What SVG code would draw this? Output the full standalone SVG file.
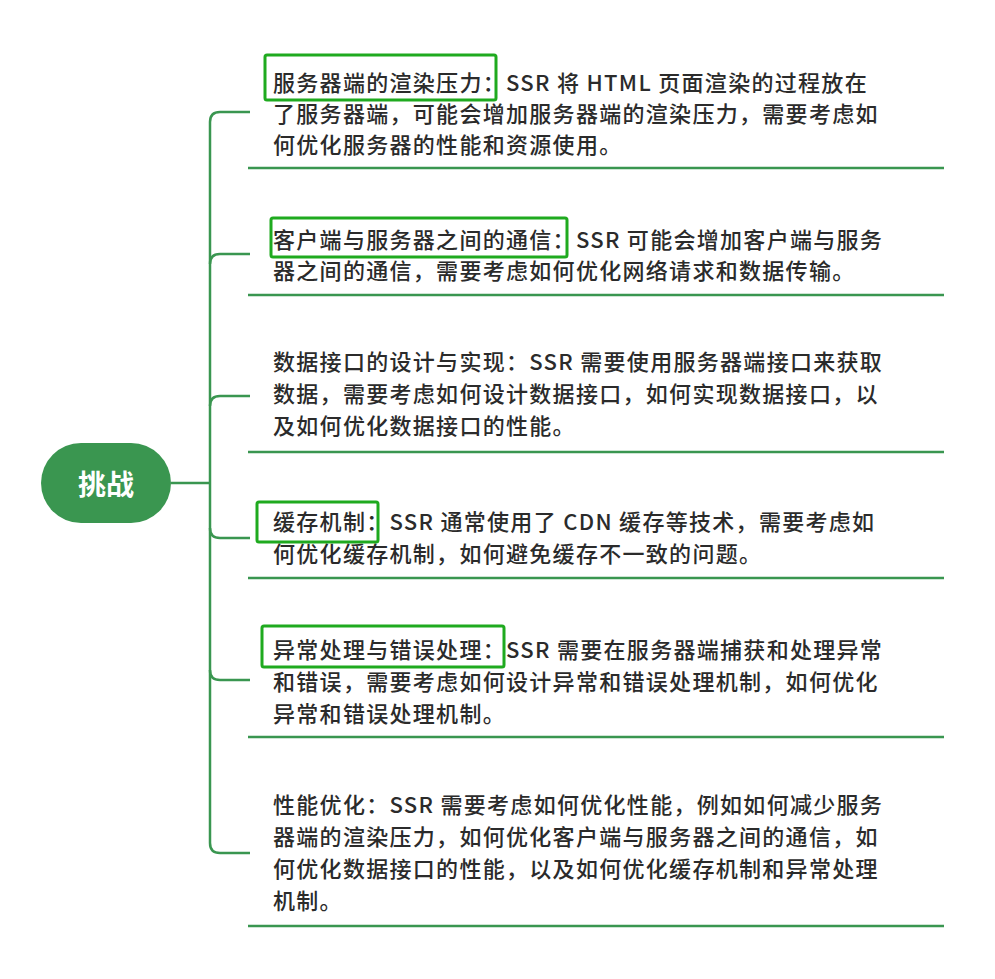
<svg xmlns="http://www.w3.org/2000/svg" width="995" height="979" viewBox="0 0 995 979">
<style>
.t{font-family:"Noto Sans CJK SC","Liberation Sans",sans-serif;font-size:22px;letter-spacing:1.3px;font-weight:500;fill:#2b2b2b}
.c{fill:none;stroke:#3a9650;stroke-width:2.5}
.u{stroke:#3a9650;stroke-width:2.5}
.h{fill:none;stroke:#1faa1f;stroke-width:3}
</style>
<rect width="995" height="979" fill="#fff"/>
<g id="connectors">
<path class="c" d="M171 483H210"/>
<path class="c" d="M250 112H220Q210 112 210 122V843Q210 853 220 853H250"/>
<path class="c" d="M210 264Q210 254 220 254H250"/>
<path class="c" d="M210 406Q210 396 220 396H250"/>
<path class="c" d="M210 528Q210 538 220 538H250"/>
<path class="c" d="M210 670Q210 680 220 680H250"/>
</g>
<g id="root">
<rect x="41" y="443" width="130" height="80" rx="40" fill="#3a9650"/>
<text x="106" y="495" text-anchor="middle" style="font-family:'Noto Sans CJK SC',sans-serif;font-size:28px;font-weight:bold;fill:#fff">挑战</text>
</g>
<g id="n1">
<text class="t"><tspan x="273" y="91">服务器端的渲染压力：SSR 将 HTML 页面渲染的过程放在</tspan><tspan x="273" y="122">了服务器端，可能会增加服务器端的渲染压力，需要考虑如</tspan><tspan x="273" y="153">何优化服务器的性能和资源使用。</tspan></text>
<line class="u" x1="248" y1="168" x2="944" y2="168"/>
<rect class="h" x="265" y="55" width="231" height="45" rx="2"/>
</g>
<g id="n2">
<text class="t"><tspan x="273" y="248">客户端与服务器之间的通信：SSR 可能会增加客户端与服务</tspan><tspan x="273" y="279">器之间的通信，需要考虑如何优化网络请求和数据传输。</tspan></text>
<line class="u" x1="248" y1="295" x2="944" y2="295"/>
<rect class="h" x="271" y="218" width="296" height="39" rx="2"/>
</g>
<g id="n3">
<text class="t"><tspan x="273" y="370">数据接口的设计与实现：SSR 需要使用服务器端接口来获取</tspan><tspan x="273" y="402">数据，需要考虑如何设计数据接口，如何实现数据接口，以</tspan><tspan x="273" y="434">及如何优化数据接口的性能。</tspan></text>
<line class="u" x1="248" y1="452" x2="944" y2="452"/>
</g>
<g id="n4">
<text class="t"><tspan x="273" y="530">缓存机制：SSR 通常使用了 CDN 缓存等技术，需要考虑如</tspan><tspan x="273" y="562">何优化缓存机制，如何避免缓存不一致的问题。</tspan></text>
<line class="u" x1="248" y1="578" x2="944" y2="578"/>
<rect class="h" x="257" y="502" width="121" height="40" rx="2"/>
</g>
<g id="n5">
<text class="t"><tspan x="273" y="658">异常处理与错误处理：SSR 需要在服务器端捕获和处理异常</tspan><tspan x="273" y="690">和错误，需要考虑如何设计异常和错误处理机制，如何优化</tspan><tspan x="273" y="722">异常和错误处理机制。</tspan></text>
<line class="u" x1="248" y1="737" x2="944" y2="737"/>
<rect class="h" x="262" y="626" width="242" height="41" rx="2"/>
</g>
<g id="n6">
<text class="t"><tspan x="273" y="813">性能优化：SSR 需要考虑如何优化性能，例如如何减少服务</tspan><tspan x="273" y="845">器端的渲染压力，如何优化客户端与服务器之间的通信，如</tspan><tspan x="273" y="877">何优化数据接口的性能，以及如何优化缓存机制和异常处理</tspan><tspan x="273" y="909">机制。</tspan></text>
<line class="u" x1="248" y1="926" x2="944" y2="926"/>
</g>
</svg>
